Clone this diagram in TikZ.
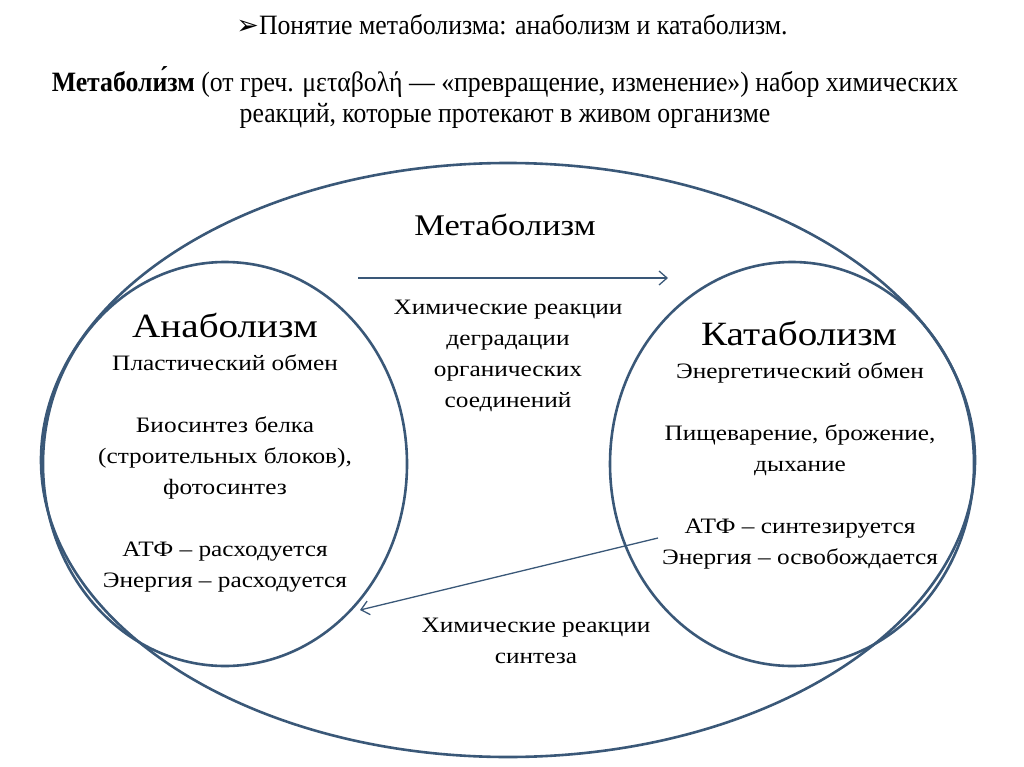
\documentclass[tikz,border=0pt]{standalone}
\usepackage{fontspec}
\setmainfont{Liberation Serif}
\newfontfamily\widefont[FakeStretch=1.15]{Liberation Serif}
\newfontfamily\narrowfont[FakeStretch=0.92]{Liberation Serif}
\newfontfamily\symfont{DejaVu Sans}
\usepackage{tikz}
\usetikzlibrary{arrows.meta}
\definecolor{ringblue}{RGB}{58,88,120}

\begin{document}
\begin{tikzpicture}[x=1pt, y=-1pt,
        ring/.style={draw=ringblue, line width=2.6pt},
        flow/.style={draw=ringblue, line width=1.3pt, -{Straight Barb[length=8pt, width=14pt]}},
        head/.style={font=\widefont\fontsize{34}{38}\selectfont},
        body/.style={font=\widefont\fontsize{22}{31}\selectfont, align=center}]
        \useasboundingbox (0,0) rectangle (1024,767);
        \coordinate (M) at (508, 460);
        \coordinate (L) at (225, 464);
        \coordinate (R) at (792, 464);
        \draw[ring] (M) ellipse [x radius=467pt, y radius=297pt];
        \draw[ring] (L) ellipse [x radius=182pt, y radius=202pt];
        \draw[ring] (R) ellipse [x radius=182pt, y radius=202pt];
        
        \node (title) at (512, 25) {\narrowfont\fontsize{28}{30}\selectfont{\symfont\fontsize{27}{28}\selectfont ➢}Понятие метаболизма: анаболизм и катаболизм.};
        \node[align=center, font=\narrowfont\fontsize{28}{31}\selectfont] (defn) at (505, 98) {\textbf{Метаболи́зм} (от греч. μεταβολή — «превращение, изменение») набор химических\\ реакций, которые протекают в живом организме};
        \node[font=\widefont\fontsize{30}{32}\selectfont] (metab) at (505, 225) {Метаболизм};
        
        \node[head] (anab) at (225, 325) {Анаболизм};
        \node[body] (anabtxt) at (225, 473) {Пластический обмен\\[31pt] Биосинтез белка\\ (строительных блоков),\\ фотосинтез\\[31pt] АТФ – расходуется\\ Энергия – расходуется};
        \node[head] (katab) at (799, 333) {Катаболизм};
        \node[body] (katabtxt) at (800, 466) {Энергетический обмен\\[31pt] Пищеварение, брожение,\\ дыхание\\[31pt] АТФ – синтезируется\\ Энергия – освобождается};
        
        \node[body] (degr) at (508, 356) {Химические реакции\\ деградации\\ органических\\ соединений};
        \node[body] (synth) at (536, 641) {Химические реакции\\ синтеза};
        
        \coordinate (D1) at (358, 278);
        \coordinate (D2) at (668, 278);
        \coordinate (S1) at (658, 538);
        \coordinate (S2) at (360, 610);
        \draw[flow] (D1) -- (D2);
        \draw[flow] (S1) -- (S2);
    \end{tikzpicture}
\end{document}
